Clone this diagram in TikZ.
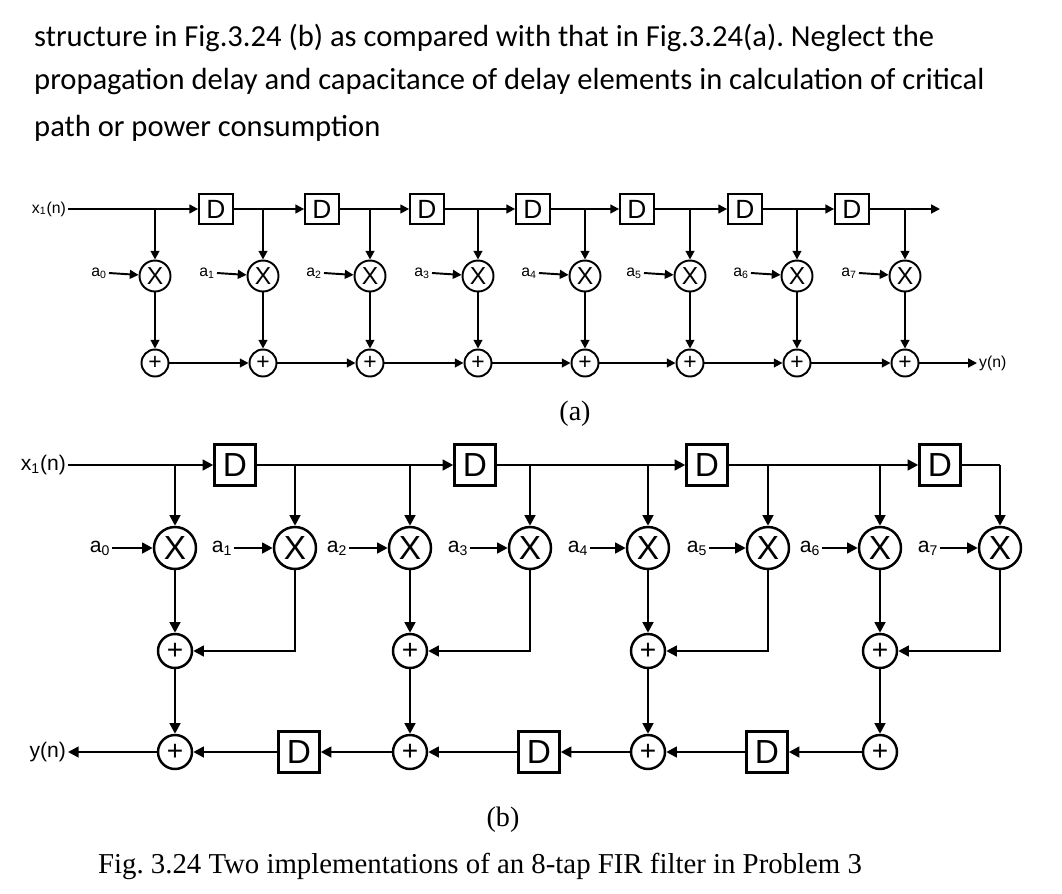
\documentclass[tikz,border=0pt]{standalone}
\usepackage{fontspec}
\setmainfont{Liberation Serif}
\newfontfamily\hdr{Carlito}
\newfontfamily\dsans{Liberation Sans}
\usetikzlibrary{arrows.meta}
\begin{document}
\begin{tikzpicture}[x={(0.02cm,0)},y={(0,-0.02cm)},
  la/.style={line width=1.1pt,-{Triangle[length=5pt,width=5pt]}},
  pa/.style={line width=1.1pt},
  lb/.style={line width=1.4pt,-{Triangle[length=6pt,width=6pt]}},
  pb/.style={line width=1.4pt},
  dA/.style={draw,line width=1pt,minimum width=0.68cm,minimum height=0.6cm,inner sep=0pt,font=\dsans\fontsize{15}{15}\selectfont},
  mA/.style={draw,circle,line width=1.1pt,minimum size=0.62cm,inner sep=0pt,font=\dsans\fontsize{14}{14}\selectfont},
  sA/.style={draw,circle,line width=1.1pt,minimum size=0.54cm,inner sep=0pt,font=\dsans\fontsize{13}{13}\selectfont},
  dB/.style={draw,line width=1.4pt,minimum width=0.82cm,minimum height=0.82cm,inner sep=0pt,font=\dsans\fontsize{19}{19}\selectfont},
  mB/.style={draw,circle,line width=1.4pt,minimum size=0.84cm,inner sep=0pt,font=\dsans\fontsize{19}{19}\selectfont},
  sB/.style={draw,circle,line width=1.4pt,minimum size=0.68cm,inner sep=0pt,font=\dsans\fontsize{16}{16}\selectfont},
  tA/.style={font=\dsans\fontsize{9}{9}\selectfont,inner sep=1pt},
  tB/.style={font=\dsans\fontsize{12}{12}\selectfont,inner sep=1pt}]
\useasboundingbox (0,0) rectangle (1062,893);
% header
\node[anchor=west,font=\hdr\fontsize{17.4}{17.4}\selectfont] (h1) at (28,38) {structure in Fig.3.24 (b) as compared with that in Fig.3.24(a).\ Neglect the};
\node[anchor=west,font=\hdr\fontsize{17.4}{17.4}\selectfont] (h2) at (28,82) {propagation delay and capacitance of delay elements in calculation of critical};
\node[anchor=west,font=\hdr\fontsize{17.4}{17.4}\selectfont] (h3) at (28,128) {path or power consumption};
% ---------- (a)
\node[tA,anchor=east] (xa) at (68,209) {x\textsubscript{1}(n)};
\foreach \i/\x in {0/155,1/263,2/370,3/478,4/585,5/690,6/797,7/905}{
  \coordinate (ta\i) at (\x,209);
  \node[mA] (ma\i) at (\x,276) {X};
  \node[sA] (sa\i) at (\x,363) {+};
  \node[tA,anchor=east] (ca\i) at (\x-46,273) {a\textsubscript{\i}};
  \draw[la] (ca\i.east) -- (ma\i);
  \draw[la] (ta\i) -- (ma\i);
  \draw[la] (ma\i) -- (sa\i);
}
\foreach \i/\x in {1/216,2/322,3/427,4/533,5/637,6/745,7/852}{
  \node[dA] (da\i) at (\x,209) {D};
}
\draw[pa] (xa.east) -- (ta0);
\foreach \i [count=\j] in {0,...,6}{
  \draw[la] (ta\i) -- (da\j);
  \draw[pa] (da\j) -- (ta\j);
  \draw[la] (sa\i) -- (sa\j);
}
\coordinate (aout) at (940,209);
\draw[la] (ta7) -- (aout);
\node[tA,anchor=west] (ya) at (977,363) {y(n)};
\draw[la] (sa7) -- (ya.west);
\node[font=\fontsize{16}{16}\selectfont] (capa) at (575,414) {(a)};
% ---------- (b)
\node[tB,anchor=east] (xb) at (68,465) {x\textsubscript{1}(n)};
\foreach \j/\l/\r/\d in {0/175/295/235,1/410/530/475,2/648/768/707,3/880/1000/940}{
  \coordinate (tl\j) at (\l,465);
  \coordinate (tr\j) at (\r,465);
  \node[dB] (db\j) at (\d,465) {D};
  \node[mB] (ml\j) at (\l,548) {X};
  \node[mB] (mr\j) at (\r,548) {X};
  \node[sB] (s\j) at (\l,651) {+};
  \node[sB] (t\j) at (\l,752) {+};
  \draw[lb] (tl\j) -- (ml\j);
  \draw[lb] (tr\j) -- (mr\j);
  \draw[lb] (ml\j) -- (s\j);
  \draw[lb] (mr\j) |- (s\j);
  \draw[lb] (s\j) -- (t\j);
  \draw[lb] (tl\j) -- (db\j);
  \draw[pb] (db\j) -- (tr\j);
}
\draw[pb] (xb.east) -- (tl0);
\draw[pb] (tr0) -- (tl1);
\draw[pb] (tr1) -- (tl2);
\draw[pb] (tr2) -- (tl3);
\foreach \k/\x/\n in {0/100/0,1/222/1,2/337/2,3/458/3,4/578/4,5/697/5,6/810/6,7/928/7}{
  \node[tB] (cb\k) at (\x,548) {a\textsubscript{\n}};
}
\foreach \k/\m in {0/ml0,1/mr0,2/ml1,3/mr1,4/ml2,5/mr2,6/ml3,7/mr3}{
  \draw[lb] (cb\k.east) -- (\m);
}
\node[dB] (bd0) at (299,752) {D};
\node[dB] (bd1) at (539,752) {D};
\node[dB] (bd2) at (767,752) {D};
\draw[lb] (t3) -- (bd2);
\draw[lb] (bd2) -- (t2);
\draw[lb] (t2) -- (bd1);
\draw[lb] (bd1) -- (t1);
\draw[lb] (t1) -- (bd0);
\draw[lb] (bd0) -- (t0);
\node[tB,anchor=east] (yb) at (68,752) {y(n)};
\draw[lb] (t0) -- (yb.east);
\node[font=\fontsize{16}{16}\selectfont] (capb) at (503,820) {(b)};
\node[font=\fontsize{16.4}{16.4}\selectfont] (cap) at (480,866) {Fig.\ 3.24 Two implementations of an 8-tap FIR filter in Problem 3};
\end{tikzpicture}
\end{document}
